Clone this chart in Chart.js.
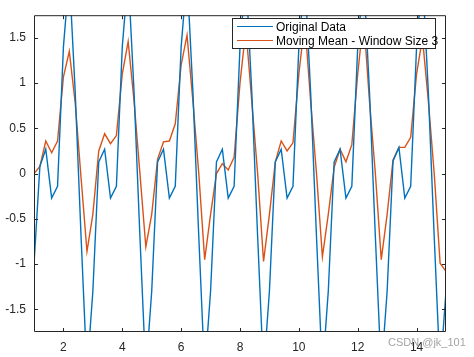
<!DOCTYPE html>
<html>
<head>
<meta charset="utf-8">
<script src="https://cdn.jsdelivr.net/npm/chart.js@4.4.1/dist/chart.umd.min.js"></script>
<style>
  html, body { margin: 0; padding: 0; background: #fff; }
  #wrap { position: relative; width: 474px; height: 357px; }
  canvas { display: block; }
  #legend { position: absolute; left: 232px; top: 18px; width: 204px; height: 31px; border: 1px solid #262626; background: #fff; box-sizing: border-box; font: 12px "Liberation Sans", Arial, sans-serif; color: #000; }
  .row { position: absolute; left: 0; height: 14px; line-height: 14px; white-space: nowrap; }
  .sw { position: absolute; left: 4px; top: 6px; width: 36px; height: 1.4px; }
  .lt { position: absolute; left: 43px; top: 0; }
  #wm { position: absolute; left: 388px; top: 336px; font: 11px "Liberation Sans", Arial, sans-serif; color: rgba(140,140,140,0.8); white-space: nowrap; }
</style>
</head>
<body>
<div id="wrap">
  <canvas id="c" width="474" height="357"></canvas>
  <div id="legend">
    <div class="row" style="top:1px"><div class="sw" style="background:#0072BD"></div><span class="lt">Original Data</span></div>
    <div class="row" style="top:15px"><div class="sw" style="background:#D95319"></div><span class="lt">Moving Mean - Window Size 3</span></div>
  </div>
  <div id="wm">CSDN @jk_101</div>
</div>
<script>
// x samples: 1, 1.2, ..., 15
const xValues = [1.0,1.2,1.4,1.6,1.8,2.0,2.2,2.4,2.6,2.8,
  3.0,3.2,3.4,3.6,3.8,4.0,4.2,4.4,4.6,4.8,
  5.0,5.2,5.4,5.6,5.8,6.0,6.2,6.4,6.6,6.8,
  7.0,7.2,7.4,7.6,7.8,8.0,8.2,8.4,8.6,8.8,
  9.0,9.2,9.4,9.6,9.8,10.0,10.2,10.4,10.6,10.8,
  11.0,11.2,11.4,11.6,11.8,12.0,12.2,12.4,12.6,12.8,
  13.0,13.2,13.4,13.6,13.8,14.0,14.2,14.4,14.6,14.8,
  15.0];
const originalData = [-1.0,0.08,0.27,-0.27,-0.14,1.4,2.2,0.9,-0.7,-2.2,
  -1.3,0.13,0.27,-0.27,-0.14,1.4,2.2,0.9,-0.7,-2.2,
  -1.3,0.13,0.27,-0.27,-0.14,1.4,2.2,0.9,-0.7,-2.2,
  -1.3,0.13,0.27,-0.27,-0.14,1.4,2.2,0.9,-0.7,-2.2,
  -1.3,0.13,0.27,-0.27,-0.14,1.4,2.2,0.9,-0.7,-2.2,
  -1.3,0.13,0.27,-0.27,-0.14,1.4,2.2,0.9,-0.7,-2.2,
  -1.3,0.14,0.29,-0.27,-0.14,1.4,2.2,0.9,-0.7,-2.2,
  -1.3];
const movingMean = [0.0,0.08,0.36,0.23,0.36,1.07,1.35,0.78,-0.05,-0.86,
  -0.45,0.25,0.44,0.33,0.42,1.1,1.46,0.8,0.0,-0.81,
  -0.45,0.16,0.35,0.36,0.55,1.2,1.53,0.8,0.0,-0.95,
  -0.45,0.0,0.11,0.04,0.18,1.0,1.6,0.8,0.0,-0.97,
  -0.45,0.13,0.36,0.25,0.34,1.1,1.68,0.8,0.0,-0.92,
  -0.45,0.07,0.27,0.13,0.32,1.1,1.72,0.8,0.0,-0.95,
  -0.45,0.15,0.29,0.29,0.4,1.1,1.5,0.8,0.0,-0.99,
  -1.08];
const xTicks = [2,4,6,8,10,12,14];
const yTicks = [-1.5,-1,-0.5,0,0.5,1,1.5];
const seriesNames = ['Original Data', 'Moving Mean - Window Size 3'];

const toXY = arr => arr.map((v, i) => ({x: xValues[i], y: v}));
const axisColor = '#262626';

const boxTicks = {
  id: 'boxTicks',
  afterDraw(chart) {
    const {ctx, chartArea: a, scales: {x, y}} = chart;
    ctx.save();
    ctx.strokeStyle = axisColor;
    ctx.lineWidth = 1;
    ctx.beginPath();
    ctx.rect(a.left + 0.5, a.top + 0.5, a.right - a.left - 1, a.bottom - a.top - 1);
    ctx.stroke();
    const L = 4;
    ctx.beginPath();
    x.ticks.forEach(t => {
      const px = Math.round(x.getPixelForValue(t.value)) + 0.5;
      ctx.moveTo(px, a.bottom); ctx.lineTo(px, a.bottom - L);
      ctx.moveTo(px, a.top); ctx.lineTo(px, a.top + L);
    });
    y.ticks.forEach(t => {
      const py = Math.round(y.getPixelForValue(t.value)) + 0.5;
      ctx.moveTo(a.left, py); ctx.lineTo(a.left + L, py);
      ctx.moveTo(a.right, py); ctx.lineTo(a.right - L, py);
    });
    ctx.stroke();
    ctx.restore();
  }
};

const fontSpec = { family: '"Liberation Sans", Arial, sans-serif', size: 12 };

new Chart(document.getElementById('c'), {
  type: 'line',
  data: {
    datasets: [
      { label: seriesNames[0], data: toXY(originalData), borderColor: '#0072BD', borderWidth: 1.4, pointRadius: 0, tension: 0, fill: false },
      { label: seriesNames[1], data: toXY(movingMean), borderColor: '#D95319', borderWidth: 1.4, pointRadius: 0, tension: 0, fill: false }
    ]
  },
  options: {
    responsive: false,
    animation: false,
    layout: { padding: { top: 8, right: 28, left: 0, bottom: 0 } },
    plugins: { legend: { display: false }, tooltip: { enabled: false } },
    scales: {
      x: {
        type: 'linear', min: 1, max: 15,
        afterBuildTicks: s => { s.ticks = xTicks.map(v => ({value: v})); },
        afterFit: s => { s.height = 25; },
        grid: { display: false, drawTicks: false }, border: { display: false },
        ticks: { color: axisColor, padding: 8, maxRotation: 0, autoSkip: false, font: fontSpec, callback: v => String(v) }
      },
      y: {
        type: 'linear', min: -1.75, max: 1.75,
        afterBuildTicks: s => { s.ticks = yTicks.map(v => ({value: v})); },
        afterFit: s => { s.width = 34; },
        grid: { display: false, drawTicks: false }, border: { display: false },
        ticks: { color: axisColor, padding: 8, autoSkip: false, font: fontSpec, callback: v => String(v) }
      }
    }
  },
  plugins: [boxTicks]
});
</script>
</body>
</html>
